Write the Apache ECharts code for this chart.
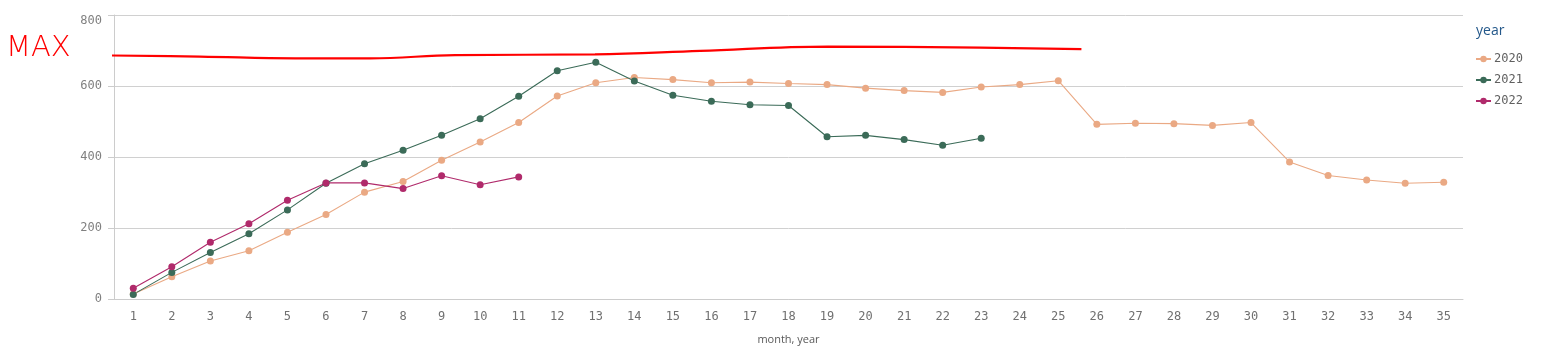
<!DOCTYPE html>
<html>
<head>
<meta charset="utf-8">
<script src="https://cdn.jsdelivr.net/npm/echarts@6/dist/echarts.min.js"></script>
<style>
html,body{margin:0;padding:0;background:#fff;}
#chart{width:1543px;height:350px;}
</style>
</head>
<body>
<div id="chart"></div>
<script>
const months = Array.from({length: 35}, (_, i) => String(i + 1));
const yearNames = ['2020', '2021', '2022'];
const values2020 = [14, 63, 107, 136, 188, 238, 301, 331, 391, 442, 497, 572, 609, 624, 618, 609, 611, 607, 604, 594, 587, 582, 597, 604, 615, 492, 495, 494, 489, 497, 386, 348, 335, 326, 329];
const values2021 = [13, 75, 131, 184, 251, 326, 381, 419, 461, 508, 571, 643, 667, 614, 574, 557, 547, 545, 457, 461, 449, 433, 453];
const values2022 = [30, 91, 160, 212, 278, 327, 327, 311, 347, 322, 344];
// hand-drawn "MAX" annotation line: [position along month axis, value]
const maxLinePos = [0.34, 2.73, 5.2, 7.15, 9.35, 12.98, 15.71, 19.02, 22.98, 25.6];
const maxLineVal = [686, 683, 678, 678, 687, 689, 699, 711, 708, 704];
const yTicks = [0, 200, 400, 600, 800];

const colors = {'2020': '#eaa984', '2021': '#3b6b58', '2022': '#b02a6b'};
const mono = 'DejaVu Sans Mono';
const sans = 'Open Sans';

const chart = echarts.init(document.getElementById('chart'));
const mkSeries = (name, data) => ({
  name: name,
  type: 'line',
  data: data,
  symbol: 'circle',
  symbolSize: 7,
  showSymbol: true,
  color: colors[name],
  lineStyle: {width: 1.1, color: colors[name]},
  itemStyle: {color: colors[name]},
  emphasis: {disabled: true}
});

chart.setOption({
  animation: false,
  backgroundColor: '#fff',
  title: [
    {text: 'year', left: 1471, top: 19, textStyle: {fontFamily: sans, fontSize: 14, fontWeight: 'normal', color: '#24588a'}},
    {text: 'MAX', left: 1, top: 29, textStyle: {fontFamily: 'DejaVu Sans', fontSize: 29, fontWeight: 'lighter', color: '#ff0000'}}
  ],
  legend: {
    data: yearNames,
    orient: 'vertical',
    left: 1470,
    top: 48,
    itemWidth: 15,
    itemHeight: 8,
    itemGap: 9,
    textStyle: {fontFamily: mono, fontSize: 12, color: '#606060', padding: [0, 0, 0, -2]}
  },
  grid: {left: 114, right: 80, top: 15, bottom: 47, containLabel: false},
  xAxis: [
    {
      type: 'category',
      data: months,
      boundaryGap: true,
      name: 'month, year',
      nameLocation: 'middle',
      nameGap: 35,
      nameTextStyle: {fontFamily: sans, fontSize: 11, color: '#595959'},
      axisLine: {show: true, lineStyle: {color: '#cccccc'}},
      axisTick: {show: false},
      axisLabel: {fontFamily: mono, fontSize: 12, color: '#707070', margin: 12, interval: 0},
      splitLine: {show: false}
    },
    {
      type: 'value',
      show: false,
      min: 0.5,
      max: 35.5,
      position: 'bottom'
    }
  ],
  yAxis: {
    type: 'value',
    min: yTicks[0],
    max: yTicks[yTicks.length - 1],
    interval: 200,
    axisLine: {show: true, lineStyle: {color: '#cccccc'}},
    axisTick: {show: true, length: 6, lineStyle: {color: '#cccccc'}},
    axisLabel: {
      fontFamily: mono, fontSize: 12, color: '#808080', margin: 12,
      formatter: v => v === yTicks[yTicks.length - 1] ? '{top|' + v + '}' : String(v),
      rich: {top: {fontFamily: mono, fontSize: 12, color: '#808080', padding: [12, 0, 0, 0]}}
    },
    splitLine: {show: true, lineStyle: {color: '#d0d0d0', width: 1}}
  },
  series: [
    mkSeries('2020', values2020),
    mkSeries('2021', values2021),
    mkSeries('2022', values2022),
    {
      name: 'MAX',
      type: 'line',
      xAxisIndex: 1,
      data: maxLinePos.map((p, i) => [p, maxLineVal[i]]),
      smooth: 0.4,
      showSymbol: false,
      symbol: 'none',
      clip: false,
      silent: true,
      lineStyle: {width: 2.2, color: '#ff0000'},
      z: 1
    }
  ]
});
</script>
</body>
</html>
